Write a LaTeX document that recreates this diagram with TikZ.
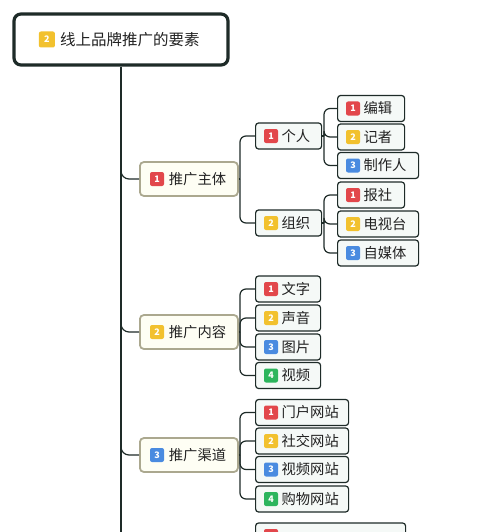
\documentclass[tikz,border=0pt]{standalone}
\usepackage{fontspec}
\setmainfont{Noto Sans CJK SC}
\definecolor{cred}{HTML}{E2474B}
\definecolor{cyel}{HTML}{F2C12E}
\definecolor{cblu}{HTML}{4A8BE0}
\definecolor{cgrn}{HTML}{2DB55D}
\definecolor{linec}{HTML}{1E2B28}
\definecolor{lvlb}{HTML}{ABA88F}
\definecolor{lvlf}{HTML}{FEFEF4}
\definecolor{leaff}{HTML}{F5F9F7}
\definecolor{txtc}{HTML}{222222}
\newcommand\leafnode[7]{%
  \node[leafbox,text width=#4pt] (#1) at (#2,#3) {\hspace*{26pt}#7};
  \node[badge=#5] (#1b) at ([xshift=16pt]#1.west) {#6};}
\begin{document}
\begin{tikzpicture}[x=1pt,y=-1pt,
  trunk/.style={draw=linec, line width=1.8pt},
  conn/.style={draw=linec, line width=1.2pt, rounded corners=6pt},
  leafbox/.style={draw=linec, line width=1.2pt, fill=leaff, rounded corners=3pt, anchor=west,
    minimum height=26pt, inner xsep=0pt, inner ysep=0pt, align=left, text=txtc,
    font=\fontsize{14.3}{16}\selectfont},
  lvbox/.style={draw=lvlb, line width=1.8pt, fill=lvlf, rounded corners=4pt, anchor=west,
    minimum height=34pt, inner xsep=0pt, inner ysep=0pt, align=left, text=txtc,
    font=\fontsize{14.3}{16}\selectfont},
  rootbox/.style={draw=linec, line width=3.2pt, fill=white, rounded corners=7pt,
    minimum height=51pt, inner xsep=0pt, inner ysep=0pt, align=left, text=txtc,
    font=\fontsize{15.5}{18}\selectfont},
  badge/.style={fill=#1, rounded corners=2pt, minimum size=14pt, inner sep=0pt, text=white,
    font=\fontsize{9}{9}\selectfont\bfseries},
]
\useasboundingbox (0,0) rectangle (500,532);
\fill[white] (0,0) rectangle (500,532);

% root
\node[rootbox, text width=214pt] (root) at (121,39.5) {\hspace*{46pt}线上品牌推广的要素};
\node[badge=cyel, minimum size=16pt] (rootb) at ([xshift=34.5pt]root.west) {2};
\draw[trunk] (root.south) -- (121,540);

% level 1
\node[lvbox, text width=98pt] (zt) at (139,179) {\hspace*{29pt}推广主体};
\node[badge=cred] (ztb) at ([xshift=18pt]zt.west) {1};
\node[lvbox, text width=98pt] (nr) at (139,332) {\hspace*{29pt}推广内容};
\node[badge=cyel] (nrb) at ([xshift=18pt]nr.west) {2};
\node[lvbox, text width=98pt] (qd) at (139,455) {\hspace*{29pt}推广渠道};
\node[badge=cblu] (qdb) at ([xshift=18pt]qd.west) {3};
\draw[conn, rounded corners=8pt] (121,165) |- (zt.west);
\draw[conn, rounded corners=8pt] (121,318) |- (nr.west);
\draw[conn, rounded corners=8pt] (121,441) |- (qd.west);

% level 2 under 推广主体
\leafnode{gr}{255}{136}{66}{cred}{1}{个人}
\leafnode{zz}{255}{223}{66}{cyel}{2}{组织}
\coordinate (ztj) at (240,179);
\draw[conn] (zt.east) -- (ztj);
\draw[conn] (ztj) |- (gr.west);
\draw[conn] (ztj) |- (zz.west);

% level 3 under 个人
\leafnode{bj}{337}{108.5}{67}{cred}{1}{编辑}
\leafnode{jz}{337}{137}{67}{cyel}{2}{记者}
\leafnode{zzr}{337}{165.5}{81}{cblu}{3}{制作人}
\coordinate (grj) at (324,136);
\draw[conn] (gr.east) -- (grj);
\foreach \n in {bj,jz,zzr} \draw[conn] (grj) |- (\n.west);

% level 3 under 组织
\leafnode{bs}{337}{195}{67}{cred}{1}{报社}
\leafnode{dst}{337}{224}{81}{cyel}{2}{电视台}
\leafnode{zmt}{337}{253}{81}{cblu}{3}{自媒体}
\coordinate (zzj) at (324,223);
\draw[conn] (zz.east) -- (zzj);
\foreach \n in {bs,dst,zmt} \draw[conn] (zzj) |- (\n.west);

% under 推广内容
\leafnode{wz}{255}{289}{65}{cred}{1}{文字}
\leafnode{sy}{255}{318}{65}{cyel}{2}{声音}
\leafnode{tp}{255}{347}{65}{cblu}{3}{图片}
\leafnode{sp}{255}{375.5}{65}{cgrn}{4}{视频}
\coordinate (nrj) at (240,332);
\draw[conn] (nr.east) -- (nrj);
\foreach \n in {wz,sy,tp,sp} \draw[conn] (nrj) |- (\n.west);

% under 推广渠道
\leafnode{mh}{255}{412.5}{93}{cred}{1}{门户网站}
\leafnode{sj}{255}{441}{93}{cyel}{2}{社交网站}
\leafnode{spw}{255}{469.5}{93}{cblu}{3}{视频网站}
\leafnode{gw}{255}{499}{93}{cgrn}{4}{购物网站}
\coordinate (qdj) at (240,455);
\draw[conn] (qd.east) -- (qdj);
\foreach \n in {mh,sj,spw,gw} \draw[conn] (qdj) |- (\n.west);

% partly visible box at the bottom edge
\node[leafbox, text width=150pt] (dm) at (255,536) {};
\node[badge=cred] (dmb) at ([xshift=16pt]dm.west) {};
\end{tikzpicture}
\end{document}
